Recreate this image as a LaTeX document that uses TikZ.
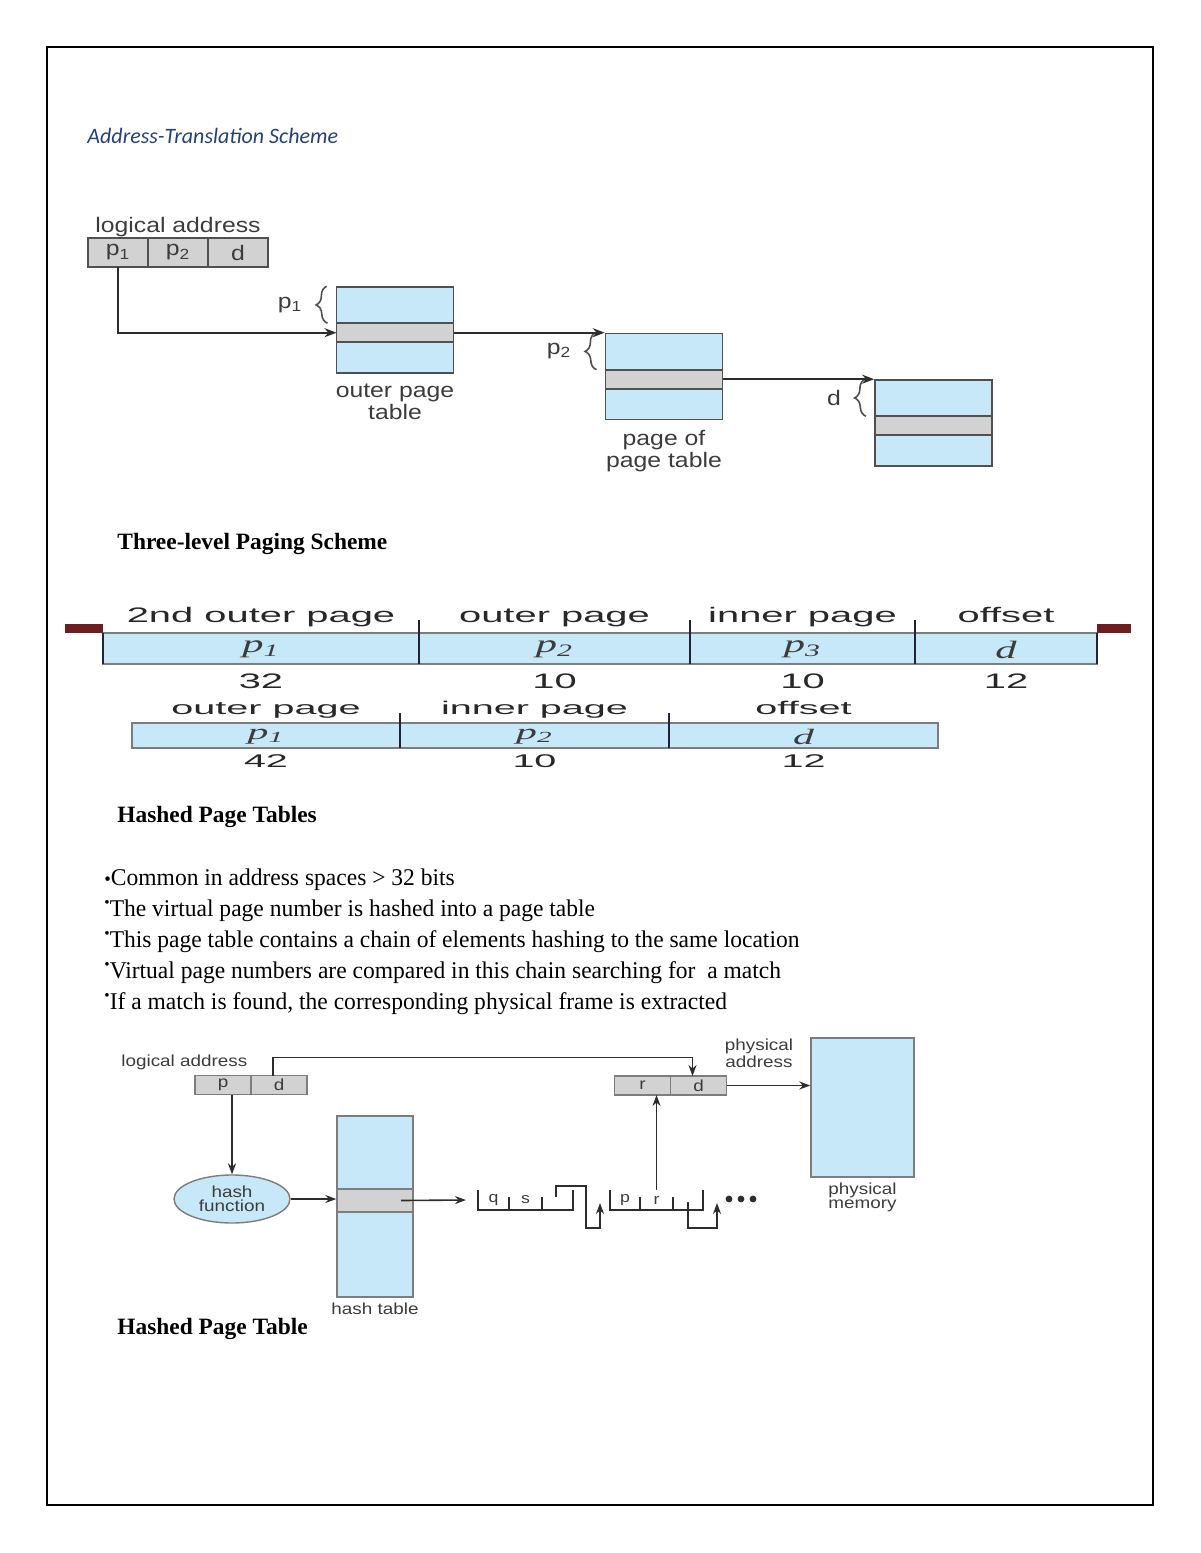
\documentclass[tikz,border=0pt]{standalone}
\usepackage{graphicx}
\usepackage{fontspec}
\setmainfont{Liberation Serif}
\setsansfont{Liberation Sans}
\newfontfamily\headfont{Carlito}
\newfontfamily\figsans[FakeStretch=1.18]{Liberation Sans}
\newfontfamily\barsans[FakeStretch=1.9]{Liberation Sans}
\newfontfamily\barserif[FakeStretch=1.7]{Liberation Serif}
\newfontfamily\barsanstwo[FakeStretch=2.15]{Liberation Sans}
\newfontfamily\barseriftwo[FakeStretch=1.9]{Liberation Serif}
\newfontfamily\bodyserif[FakeStretch=0.98]{Liberation Serif}
\usetikzlibrary{positioning,calc,arrows.meta,shapes.geometric,decorations.pathreplacing}
\definecolor{cellblue}{RGB}{198,232,248}
\definecolor{cellgray}{RGB}{210,210,210}
\definecolor{framegray}{RGB}{80,80,80}
\definecolor{softgray}{RGB}{125,125,125}
\definecolor{linegray}{RGB}{45,45,45}
\definecolor{textgray}{RGB}{60,60,60}
\definecolor{bartext}{RGB}{40,40,40}
\definecolor{headblue}{RGB}{38,64,120}
\definecolor{tabred}{RGB}{110,30,30}
\definecolor{edgedark}{RGB}{35,35,55}
\newcommand\lobullet{\scalebox{0.8}{\textbullet}}
\newcommand\hibullet{\raisebox{0.75ex}{\scalebox{0.65}{\textbullet}}}
\begin{document}
\begin{tikzpicture}[x=0.5pt, y=-0.5pt, font=\sffamily,
	conn/.style={draw=linegray, line width=1pt, -{Stealth[length=6pt, width=4.5pt]}},
	thin conn/.style={draw=linegray, line width=0.8pt, -{Stealth[length=5.5pt, width=4pt]}},
	cell/.style={draw=framegray, line width=0.8pt, fill=cellgray, inner sep=0pt, outer sep=0pt, text=textgray},
	addr/.style={cell, minimum width=30pt, minimum height=14.5pt, font=\figsans\fontsize{10.5}{10}\selectfont},
	ptable/.style={draw=framegray, line width=0.8pt, fill=cellblue, minimum width=58.5pt, minimum height=43pt, inner sep=0pt},
	prow/.style={cell, minimum width=58.5pt, minimum height=9.5pt},
	figlabel/.style={font=\figsans\fontsize{10.5}{9.5}\selectfont, text=textgray, align=center, inner sep=0pt},
	smalllabel/.style={font=\figsans\fontsize{8}{7}\selectfont, text=textgray, align=center, inner sep=0pt},
	brace/.style={decorate, decoration={brace, amplitude=5.5pt}, draw=framegray, line width=0.8pt},
	barfield/.style={draw=softgray, line width=0.7pt, fill=cellblue, inner sep=0pt, outer sep=0pt, anchor=north west},
	bartick/.style={draw=edgedark, line width=0.8pt},
	baredge/.style={draw=edgedark, line width=1.3pt},
	barlabel/.style={font=\barsans\fontsize{10.5}{11}\selectfont, text=bartext, inner sep=0pt, anchor=base},
	barvar/.style={font=\barserif\itshape\fontsize{12.5}{13}\selectfont, text=textgray, inner sep=0pt},
	barlabel two/.style={font=\barsanstwo\fontsize{9.2}{10}\selectfont, text=bartext, inner sep=0pt, anchor=base},
	barvar two/.style={font=\barseriftwo\itshape\fontsize{11}{11}\selectfont, text=textgray, inner sep=0pt},
	heading/.style={font=\rmfamily\bfseries\fontsize{11.7}{13}\selectfont, anchor=base west, inner sep=0pt},
	bodytext/.style={font=\bodyserif\fontsize{12}{14}\selectfont, anchor=base west, inner sep=0pt},
	hcell/.style={draw=softgray, line width=0.7pt, fill=cellgray, inner sep=0pt, outer sep=0pt, minimum width=28pt, minimum height=9.5pt, smalllabel},
	hblue/.style={draw=softgray, line width=0.7pt, fill=cellblue, inner sep=0pt},
	chain/.style={draw=linegray, line width=0.8pt},
	chainlabel/.style={font=\figsans\fontsize{7.5}{7.5}\selectfont, text=textgray, inner sep=0pt}
]
	%page
	\useasboundingbox (0,0) rectangle (1200,1553);
	\draw[line width=0.75pt] (47,47) rectangle (1153,1505);
	\node[font=\headfont\itshape\fontsize{11}{13}\selectfont, text=headblue, anchor=base west, inner sep=0pt] (title) at (87,143) {Address-Translation Scheme};
	%logical address
	\node[figlabel] (la label) at (178,227) {logical address};
	\node[addr] (la p1) at (118,252.5) {p\textsubscript{1}};
	\node[addr, right=0pt of la p1] (la p2) {p\textsubscript{2}};
	\node[addr, right=0pt of la p2] (la d) {d};
	%page tables
	\node[ptable] (outer) at (395,330) {};
	\node[prow] (outer row) at ($(outer.north)+(0,46.5)$) {};
	\node[ptable] (inner) at (664,376.5) {};
	\node[prow] (inner row) at ($(inner.north)+(0,46.5)$) {};
	\node[ptable] (frame) at (933.5,423) {};
	\node[prow] (frame row) at ($(frame.north)+(0,46.5)$) {};
	\node[figlabel, below=5pt of outer] (outer label) {outer page\\table};
	\node[figlabel, below=5pt of inner] (inner label) {page of\\page table};
	%braces
	\draw[brace] ([xshift=-4.5pt]outer row.north west) -- node[figlabel, left=12pt] (p1 mark) {p\textsubscript{1}} ([xshift=-4.5pt]outer.north west);
	\draw[brace] ([xshift=-4.5pt]inner row.north west) -- node[figlabel, left=12pt] (p2 mark) {p\textsubscript{2}} ([xshift=-4.5pt]inner.north west);
	\draw[brace] ([xshift=-4.5pt]frame row.north west) -- node[figlabel, left=12pt] (d mark) {d} ([xshift=-4.5pt]frame.north west);
	%connections
	\draw[conn] (la p1.south) |- (outer row.west);
	\draw[conn] (outer row.east) -- (outer row.east -| inner.west);
	\draw[conn] (inner row.east) -- (inner row.east -| frame.west);

	\node[heading] (three level) at (117,549) {Three-level Paging Scheme};
	%three-level split
	\foreach \fld/\xa/\xb/\txt/\var/\bits in {
		b1/103/419/2nd outer page/{p\textsubscript{1}}/32,
		b2/419/690/outer page/{p\textsubscript{2}}/10,
		b3/690/915/inner page/{p\textsubscript{3}}/10,
		b4/915/1097/offset/d/12}
	{
		\node[barfield, minimum width={(\xb-\xa)*0.5pt}, minimum height=15.5pt] (\fld) at (\xa,633) {};
		\node[barvar] (\fld var) at ($(\fld.center)+(0,1)$) {\var};
		\node[barlabel] (\fld name) at ($(\fld.north)+(0,-11)$) {\txt};
		\node[barlabel] (\fld bits) at ($(\fld.south)+(0,24)$) {\bits};
	}
	\foreach \fld in {b2,b3,b4}
	\draw[bartick] (\fld.south west) -- ++(0,-44);
	\draw[baredge] (b1.north west) -- (b1.south west);
	\draw[baredge] (b4.north east) -- (b4.south east);
	\fill[tabred] (b1.north west) rectangle ++(-38,-9);
	\fill[tabred] (b4.north east) rectangle ++(34,-9);
	%two-level split
	\foreach \fld/\xa/\xb/\txt/\var/\bits in {
		c1/132/400/outer page/{p\textsubscript{1}}/42,
		c2/400/669/inner page/{p\textsubscript{2}}/10,
		c3/669/938/offset/d/12}
	{
		\node[barfield, minimum width={(\xb-\xa)*0.5pt}, minimum height=12.5pt] (\fld) at (\xa,723) {};
		\node[barvar two] (\fld var) at ($(\fld.center)+(0,1)$) {\var};
		\node[barlabel two] (\fld name) at ($(\fld.north)+(0,-9)$) {\txt};
		\node[barlabel two] (\fld bits) at ($(\fld.south)+(0,19)$) {\bits};
	}
	\foreach \fld in {c2,c3}
	\draw[bartick] (\fld.south west) -- ++(0,-35);

	\node[heading] (hashed) at (117,822) {Hashed Page Tables};
	%bullets
	\foreach \n/\y/\txt in {
		1/885/{\lobullet Common in address spaces > 32 bits},
		2/916/{\hibullet The virtual page number is hashed into a page table},
		3/947/{\hibullet This page table contains a chain of elements hashing to the same location},
		4/978/{\hibullet Virtual page numbers are compared in this chain searching for~ a match},
		5/1009/{\hibullet If a match is found, the corresponding physical frame is extracted}}
	\node[bodytext] (bullet \n) at (104,\y) {\txt};

	%hashed page table
	\node[smalllabel, anchor=base west] (hla label) at (121,1066) {logical address};
	\node[hcell] (h p) at (223,1085) {p};
	\node[hcell, right=0pt of h p] (h d) {d};
	\node[hblue, ellipse, minimum width=58pt, minimum height=24pt, smalllabel] (hash) at (232,1199) {hash\\function};
	\node[hblue, minimum width=38pt, minimum height=90.5pt] (htab) at (375,1206.5) {};
	\node[hcell, minimum width=38pt, minimum height=11.5pt] (hrow) at (375,1200.5) {};
	\node[smalllabel, below=2.5pt of htab] (htab label) {hash table};
	\node[hcell] (pa r) at (642.5,1085.5) {r};
	\node[hcell, right=0pt of pa r] (pa d) {d};
	\node[smalllabel] (pa label) at (759,1053) {physical\\address};
	\node[hblue, minimum width=51.5pt, minimum height=69.5pt] (pmem) at (862.5,1107.5) {};
	\node[smalllabel, below=2.5pt of pmem] (pmem label) {physical\\memory};
	%chain
	\coordinate (chain in) at (466,1200);
	\draw[chain] (478,1190) -- (478,1210) -- (573,1210) -- (573,1190);
	\draw[chain] (509,1197) -- (509,1210) (542,1197) -- (542,1210);
	\draw[thin conn] (556,1197) -- (556,1186) -- (586,1186) -- (586,1228) -- (600,1228) -- (600,1203);
	\draw[chain] (610,1190) -- (610,1210) -- (703,1210) -- (703,1190);
	\draw[chain] (640,1197) -- (640,1210) (673,1197) -- (673,1210);
	\draw[thin conn] (688,1202) -- (688,1228) -- (717,1228) -- (717,1203);
	\node[chainlabel] (q) at (493.5,1200) {q};
	\node[chainlabel] (s) at (525.5,1200) {s};
	\node[chainlabel] (p) at (625,1200) {p};
	\node[chainlabel] (r) at (656.5,1200) {r};
	\foreach \x in {729,741,753}
	\fill[linegray] (\x,1199) circle (1.7pt);
	%connections
	\draw[thin conn] (h p.south -| hash.north) -- (hash.north);
	\draw[thin conn] ([xshift=-3pt]h d.north) -- ++(0,-18) -| ([xshift=-3pt]pa d.north);
	\draw[thin conn] (hash.east) -- (hash.east -| htab.west);
	\draw[thin conn] ([xshift=-6pt]hrow.east) -- (chain in);
	\draw[thin conn] ([yshift=3pt]r.north) -- (r.north |- pa r.south);
	\draw[thin conn] (pa d.east) -- (pa d.east -| pmem.west);

	\node[heading] (hashed one) at (117,1334) {Hashed Page Table};
\end{tikzpicture}
\end{document}
